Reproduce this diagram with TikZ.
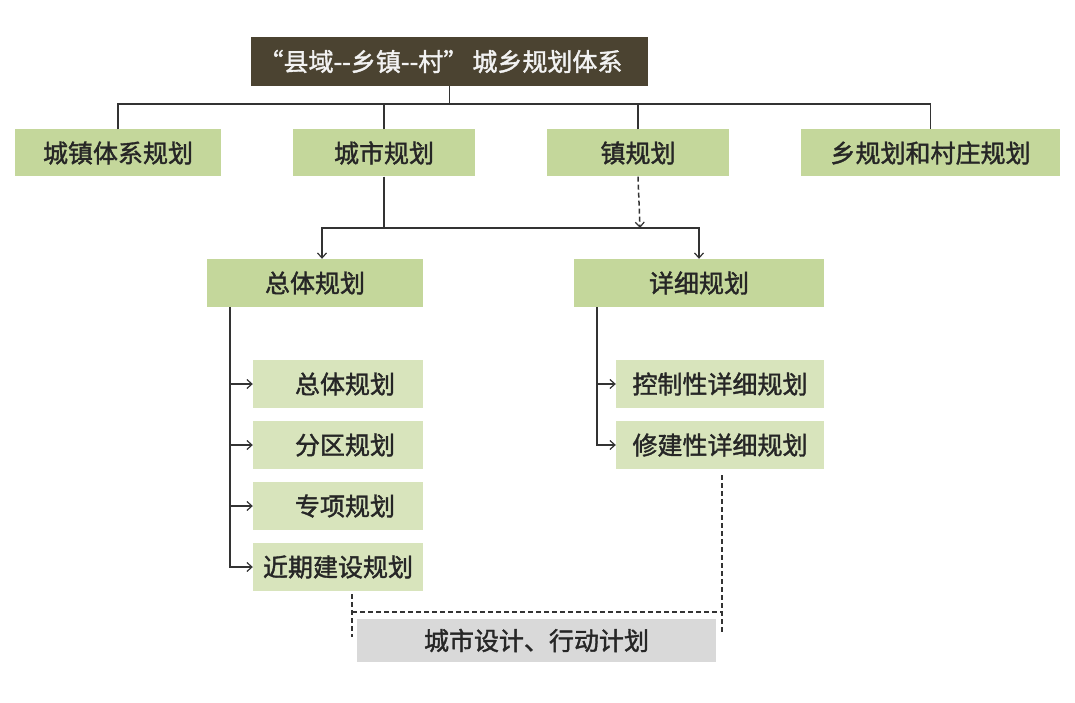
\documentclass[tikz,border=0pt]{standalone}
\usepackage{fontspec}
\setmainfont{Noto Sans CJK SC}[BoldFont=Noto Sans CJK SC,BoldFeatures={FakeBold=1.5}]
\usepackage{xcolor}
\usetikzlibrary{positioning,arrows.meta}

\definecolor{titlecol}{HTML}{4B4331}
\definecolor{maingreen}{HTML}{C4D79B}
\definecolor{subgreen}{HTML}{D8E4BC}
\definecolor{actgray}{HTML}{D9D9D9}
\definecolor{linecol}{HTML}{333333}

\begin{document}
\begin{tikzpicture}[x=1pt,y=-1pt,
    box/.style={inner sep=0pt,text=black!85,font=\fontsize{25}{29}\selectfont\bfseries},
    headbox/.style={box,fill=titlecol,text=white!95!black,minimum width=397pt,minimum height=49pt},
    mainbox/.style={box,fill=maingreen,minimum height=47pt},
    subbox/.style={box,fill=subgreen,minimum height=48pt},
    actbox/.style={box,fill=actgray,minimum width=359pt,minimum height=43pt},
    link/.style={draw=linecol,line width=1.4pt},
    arrow/.style={link,-{Straight Barb[length=5pt,width=9pt,line width=1.2pt]}},
    dashlink/.style={draw=linecol,line width=1.5pt,dash pattern=on 5pt off 3pt}]
  \useasboundingbox (0,0) rectangle (1075,703);
  % title
  \node[headbox] (title) at (449.5,61.5) {\hspace{-18pt}“县域-{}-乡镇-{}-村”\,城乡规划体系};
  % first level
  \node[mainbox,minimum width=206pt] (czgh) at (118,153) {城镇体系规划};
  \node[mainbox,minimum width=182pt] (csgh) at (384,153) {城市规划};
  \node[mainbox,minimum width=182pt] (zgh) at (638,153) {镇规划};
  \node[mainbox,minimum width=259pt] (xcgh) at (930.5,153) {乡规划和村庄规划};
  % second level
  \node[mainbox,minimum width=216pt,minimum height=48pt] (ztgh) at (315,283) {总体规划};
  \node[mainbox,minimum width=250pt,minimum height=48pt] (xxgh) at (699,283) {详细规划};
  % sub plans
  \node[subbox,minimum width=170pt] (zt) at (338,384) {\hspace{14pt}总体规划};
  \node[subbox,minimum width=170pt] (fq) at (338,445) {\hspace{14pt}分区规划};
  \node[subbox,minimum width=170pt] (zx) at (338,506) {\hspace{14pt}专项规划};
  \node[subbox,minimum width=170pt] (jq) at (338,567) {近期建设规划};
  \node[subbox,minimum width=208pt] (kz) at (720,384) {控制性详细规划};
  \node[subbox,minimum width=208pt] (xj) at (720,445) {修建性详细规划};
  \node[actbox] (act) at (536.5,640.5) {城市设计、行动计划};

  \coordinate (bus) at (0,104);
  \coordinate (bus2) at (0,228);
  \coordinate (lv) at (230,0);
  \coordinate (rv) at (597,0);
  \coordinate (hb) at (0,612);
  \coordinate (dlend) at (352,637);
  \coordinate (drend) at (722,632);

  % top tree
  \draw[link] (title.south) -- (title.south |- bus);
  \draw[link] (czgh.north) -- (czgh.north |- bus) -- (xcgh.north |- bus) -- (xcgh.north);
  \draw[link] (csgh.north) -- (csgh.north |- bus);
  \draw[link] (zgh.north) -- (zgh.north |- bus);
  % city plan split
  \draw[arrow] (csgh.south) |- ([xshift=7pt]bus2 -| ztgh.north) -- ([xshift=7pt]ztgh.north);
  \draw[arrow] (csgh.south |- bus2) -- (bus2 -| xxgh.north) -- (xxgh.north);
  \draw[arrow,dashlink] (zgh.south) -- ([xshift=2pt]zgh.south |- bus2);
  % branches
  \foreach \n in {zt,fq,zx}
    \draw[arrow] (\n.west -| lv) -- (\n.west);
  \draw[arrow] (ztgh.south -| lv) |- (jq.west);
  \draw[arrow] (kz.west -| rv) -- (kz.west);
  \draw[arrow] (xxgh.south -| rv) |- (xj.west);
  % dashed frame
  \draw[dashlink] ([yshift=-3pt]jq.south -| dlend) -- (dlend);
  \draw[dashlink] ([yshift=-6pt]xj.south -| drend) -- (drend);
  \draw[dashlink] (dlend |- hb) -- (drend |- hb);
\end{tikzpicture}
\end{document}
